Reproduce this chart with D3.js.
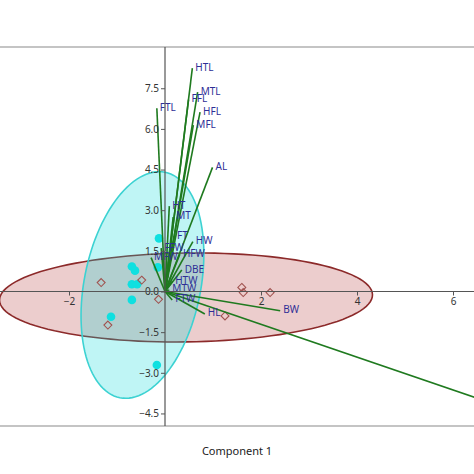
<!DOCTYPE html>
<html><head><meta charset="utf-8">
<script src="https://cdn.jsdelivr.net/npm/d3@7"></script>
<style>html,body{margin:0;padding:0;background:#fff;}svg{display:block;}</style>
</head><body>
<script>
// Group 1 (cyan filled dots)
const groupAX = [-0.69, -0.625, -0.15, -0.69, -0.58, -0.69, -1.125, -0.17, -0.125];
const groupAY = [0.92, 0.77, 0.89, 0.27, 0.27, -0.31, -0.93, -2.71, 1.96];
// Group 2 (open diamonds)
const groupBX = [-1.33, -0.485, -0.135, -1.19, 1.6, 1.63, 2.19, 1.25];
const groupBY = [0.33, 0.42, -0.29, -1.24, 0.15, -0.04, -0.04, -0.9];
// Biplot loadings
const loadNames = ["HTL","MTL","FFL","HFL","MFL","FTL","AL","HT","MT","FT","HW","FFW","MFW","HFW","DBE","HTW","MTW","FTW","HL","BW",""];
const loadX = [0.57, 0.68, 0.49, 0.73, 0.59, -0.17, 0.99, 0.09, 0.17, 0.19, 0.58, -0.08, -0.29, 0.31, 0.35, 0.15, 0.09, 0.15, 0.83, 2.40, 7.2];
const loadY = [8.24, 7.36, 7.08, 6.62, 6.14, 6.76, 4.58, 3.15, 2.75, 2.03, 1.84, 1.60, 1.25, 1.38, 0.79, 0.37, 0.06, -0.31, -0.83, -0.71, -4.36];
// Ellipses: centre and conjugate semi-diameters (data units)
const ellRed = {cx: 0.4375, cy: -0.22, ux: 3.885, uy: 0.1, vx: 0.012, vy: -1.64};
const ellCyan = {cx: -0.47, cy: 0.24, ux: 0.47, uy: 4.16, vx: 1.19, vy: -0.42};
// Ticks
const xTicks = [-2, 2, 4, 6];
const yTicks = [7.5, 6.0, 4.5, 3.0, 1.5, 0.0, -1.5, -3.0, -4.5];
const xTitle = "Component 1";

const W = 474, H = 474;
const pTop = 47, pBottom = 426;
const svg = d3.select("body").append("svg").attr("width", W).attr("height", H);
const x = d3.scaleLinear().domain([-165/48, (474-165)/48]).range([0, 474]);
const y = d3.scaleLinear().domain([(291.5-426)/27.1, (291.5-47)/27.1]).range([pBottom, pTop]);

svg.append("defs").append("clipPath").attr("id","clip").append("rect")
  .attr("x",0).attr("y",pTop).attr("width",W).attr("height",pBottom-pTop);
const plot = svg.append("g").attr("clip-path","url(#clip)");

function ellPath(e){
  const ts = d3.range(0, 361, 3).map(d => d*Math.PI/180);
  return d3.line().x(t => x(e.cx + e.ux*Math.cos(t) + e.vx*Math.sin(t)))
                  .y(t => y(e.cy + e.uy*Math.cos(t) + e.vy*Math.sin(t)))(ts) + "Z";
}
plot.append("path").attr("d", ellPath(ellRed))
  .attr("fill","rgba(175,45,45,0.24)").attr("stroke","#8c2a2a").attr("stroke-width",1.6);
plot.append("path").attr("d", ellPath(ellCyan))
  .attr("fill","rgba(0,215,215,0.25)").attr("stroke","#3cd2d2").attr("stroke-width",1.6);

// frame lines
svg.append("line").attr("x1",0).attr("x2",W).attr("y1",pTop).attr("y2",pTop).attr("stroke","#8a8a8a").attr("stroke-width",1.2);
svg.append("line").attr("x1",0).attr("x2",W).attr("y1",pBottom).attr("y2",pBottom).attr("stroke","#8a8a8a").attr("stroke-width",1.2);

// axes through origin
const yAxis = d3.axisLeft(y).tickValues(yTicks).tickFormat(d3.format(".1f")).tickSize(4).tickPadding(2);
const gy = svg.append("g").attr("transform",`translate(${x(0)},0)`).call(yAxis);
gy.select(".domain").remove();
gy.append("line").attr("x1",0).attr("x2",0).attr("y1",pTop).attr("y2",pBottom).attr("stroke","#555").attr("stroke-width",1.2);
const xAxis = d3.axisBottom(x).tickValues(xTicks).tickFormat(d3.format("d")).tickSize(4).tickPadding(2);
const gx = svg.append("g").attr("transform",`translate(0,${y(0)})`).call(xAxis);
gx.select(".domain").remove();
gx.append("line").attr("x1",0).attr("x2",W).attr("y1",0).attr("y2",0).attr("stroke","#555").attr("stroke-width",1.2);
svg.selectAll(".tick text").attr("font-family","Noto Sans, sans-serif").attr("font-size",10).attr("fill","#333");
svg.selectAll(".tick line").attr("stroke","#555");

// points
plot.selectAll(".dotA").data(groupAX).join("circle")
  .attr("cx",(d,i)=>x(d)).attr("cy",(d,i)=>y(groupAY[i])).attr("r",4.3).attr("fill","#0fe0e0");
const sym = d3.symbol().type(d3.symbolDiamond2).size(40);
plot.selectAll(".dotB").data(groupBX).join("path")
  .attr("d",sym).attr("transform",(d,i)=>`translate(${x(d)},${y(groupBY[i])})`)
  .attr("fill","none").attr("stroke","#a0524f").attr("stroke-width",1.1);

// loadings
plot.selectAll(".vec").data(loadX).join("line")
  .attr("x1",x(0)).attr("y1",y(0)).attr("x2",d=>x(d)).attr("y2",(d,i)=>y(loadY[i]))
  .attr("stroke","#1f7a1f").attr("stroke-width",1.6);
plot.selectAll(".lab").data(loadNames).join("text")
  .attr("x",(d,i)=>x(loadX[i])+3).attr("y",(d,i)=>y(loadY[i])-1.5)
  .attr("dominant-baseline","central")
  .attr("font-family","Noto Sans, sans-serif").attr("font-size",10).attr("fill","#2e2e96")
  .text(d=>d);

svg.append("text").attr("x",237).attr("y",455).attr("text-anchor","middle")
  .attr("font-family","Noto Sans, sans-serif").attr("font-size",11).attr("fill","#222").text(xTitle);
</script>
</body></html>
